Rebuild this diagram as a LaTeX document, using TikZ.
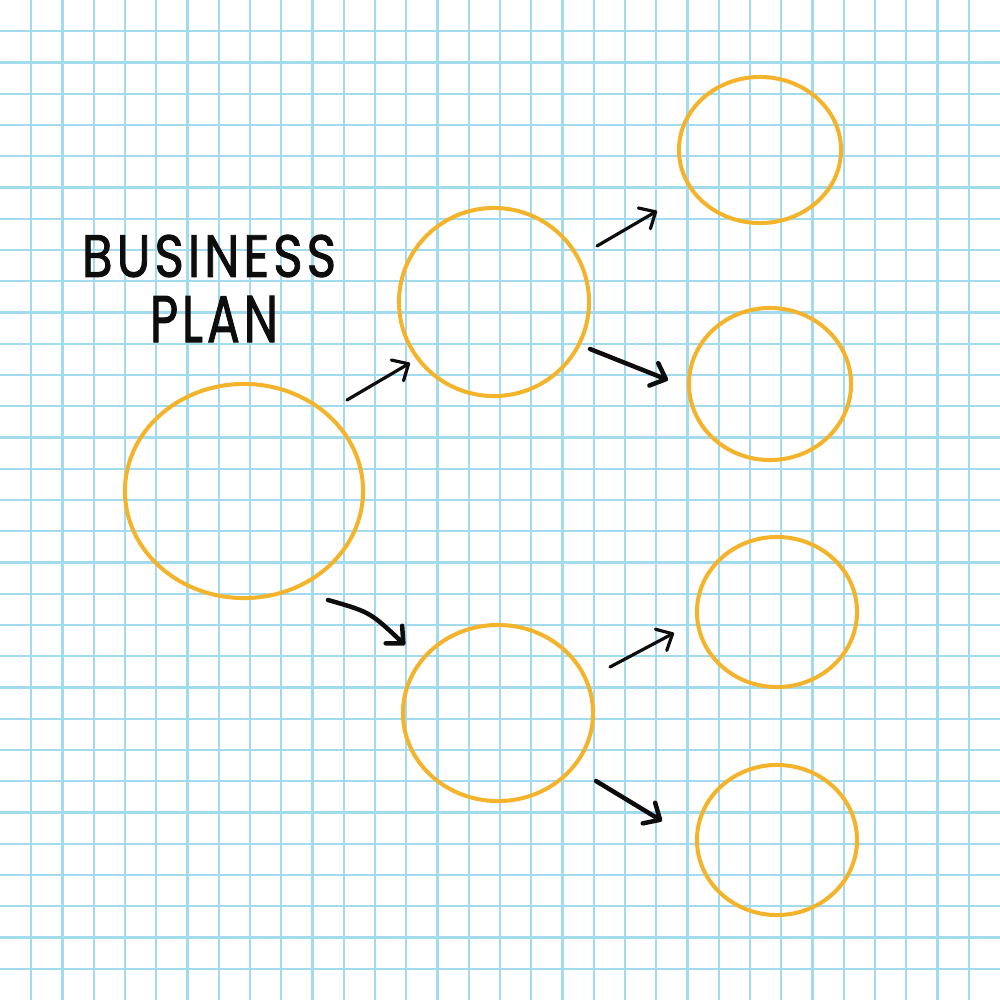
\documentclass[tikz,border=0pt]{standalone}
\usepackage{fontspec}
\setmainfont{Poppins}
\newfontfamily\titlefont[FakeBold=1.6, LetterSpace=8]{Poppins}
\usetikzlibrary{arrows.meta,shapes.geometric}
\definecolor{gridblue}{HTML}{A3DBEE}
\definecolor{ringorange}{HTML}{F3B32A}
\definecolor{inkblack}{HTML}{0D0D0D}
\tikzset{
  gridline/.style={draw=gridblue, line width=0.024cm},
  ring/.style={ellipse, draw=ringorange, line width=0.04cm, inner sep=0pt},
  arr/.style={draw=inkblack, line width=0.032cm, line cap=round,
    -{Straight Barb[length=0.13cm, width=0.24cm, line cap=round, line join=round]}},
  thickarr/.style={arr, line width=0.045cm},
  title/.style={inner sep=0pt, text=inkblack, font=\titlefont}
}
\begin{document}
\begin{tikzpicture}[x=0.01cm, y=-0.01cm]
\fill[white] (0,0) rectangle (1000,1000);
\useasboundingbox (0,0) rectangle (1000,1000);
\foreach \k in {1,...,31}{
  \draw[gridline] (\k*31.25,0) -- (\k*31.25,1000);
  \draw[gridline] (0,\k*31.25) -- (1000,\k*31.25);
}
% circles
\node[ring, minimum width=2.38cm, minimum height=2.14cm] (c0) at (244,491) {};
\node[ring, minimum width=1.90cm, minimum height=1.88cm] (c1) at (494,302) {};
\node[ring, minimum width=1.90cm, minimum height=1.76cm] (c2) at (498,713) {};
\node[ring, minimum width=1.62cm, minimum height=1.46cm] (c3) at (760,150) {};
\node[ring, minimum width=1.62cm, minimum height=1.52cm] (c4) at (770,384) {};
\node[ring, minimum width=1.60cm, minimum height=1.50cm] (c5) at (777,612) {};
\node[ring, minimum width=1.60cm, minimum height=1.50cm] (c6) at (777,840) {};
% title
\node[title] (t1) at (209,256) {\resizebox{2.54cm}{0.42cm}{BUSINESS}};
\node[title] (t2) at (214,319) {\resizebox{1.28cm}{0.46cm}{PLAN}};
% arrow end points
\coordinate (a1s) at (347,400); \coordinate (a1e) at (410,363);
\coordinate (a2s) at (597,246); \coordinate (a2e) at (657,211);
\coordinate (a3s) at (590,349); \coordinate (a3e) at (668,380);
\coordinate (a4s) at (328,600); \coordinate (a4c) at (370,612); \coordinate (a4e) at (405,645);
\coordinate (a5s) at (610,667); \coordinate (a5e) at (674,633);
\coordinate (a6s) at (596,781); \coordinate (a6e) at (662,821);
\draw[arr] (a1s) -- (a1e);
\draw[arr] (a2s) -- (a2e);
\draw[thickarr] (a3s) -- (a3e);
\draw[thickarr] (a4s) .. controls (a4c) .. (a4e);
\draw[arr] (a5s) -- (a5e);
\draw[thickarr] (a6s) -- (a6e);
\end{tikzpicture}
\end{document}
